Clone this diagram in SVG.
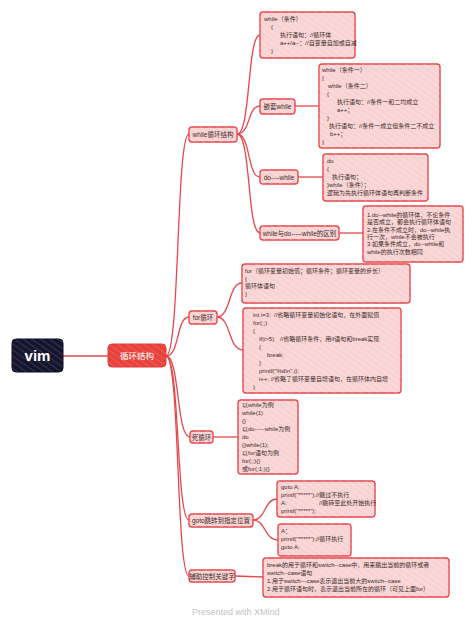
<svg xmlns="http://www.w3.org/2000/svg" width="474" height="625" viewBox="0 0 474 625">
<defs>
<pattern id="hatch" width="5" height="5" patternUnits="userSpaceOnUse" patternTransform="rotate(-55)">
<line x1="0" y1="0" x2="0" y2="5" stroke="#ffffff" stroke-opacity="0.55" stroke-width="0.8"/>
</pattern>
<pattern id="hatchD" width="5" height="5" patternUnits="userSpaceOnUse" patternTransform="rotate(-55)">
<line x1="0" y1="0" x2="0" y2="5" stroke="#ffffff" stroke-opacity="0.35" stroke-width="0.8"/>
</pattern>
<style>
.box{fill:#f9d3d3;stroke:#e5474b;stroke-width:1.4}
.hat{fill:url(#hatch);stroke:none}
.t{font-family:"Liberation Sans","Noto Sans CJK SC",sans-serif;font-size:6px;fill:#3a2a2a}
.n{font-family:"Liberation Sans","Noto Sans CJK SC",sans-serif;font-size:6.5px;fill:#3a2a2a}
.c{fill:none;stroke:#e5474b;stroke-width:1.3}
</style>
</defs>
<rect width="474" height="625" fill="#ffffff"/>

<g id="connectors">
<path class="c" d="M63 356 L108 356"/>
<path class="c" d="M166 356 C180 356 176 134 189 134"/>
<path class="c" d="M166 356 C180 356 176 317 189 317"/>
<path class="c" d="M166 356 C180 356 176 437 190 437"/>
<path class="c" d="M166 356 C180 356 176 520 189 520"/>
<path class="c" d="M166 356 C180 356 176 576 189 576"/>
<path class="c" d="M237 134 C251 134 247 35 260 35"/>
<path class="c" d="M237 134 C251 134 247 106 260 106"/>
<path class="c" d="M237 134 C251 134 247 177 260 177"/>
<path class="c" d="M237 134 C251 134 247 233 260 233"/>
<path class="c" d="M295 106 L319 106"/>
<path class="c" d="M298 177 L323 177"/>
<path class="c" d="M339 233 L363 233"/>
<path class="c" d="M217 317 C231 317 228 283 242 283"/>
<path class="c" d="M217 317 C231 317 228 350 243 350"/>
<path class="c" d="M213 437 L238 437"/>
<path class="c" d="M253 520 C266 520 264 499 277 499"/>
<path class="c" d="M253 520 C266 520 264 540 278 540"/>
<path class="c" d="M235 576 L263 577"/>
</g>

<g id="root">
<rect x="12" y="339" width="51" height="33" rx="4" fill="#15152f" stroke="#0c0c20" stroke-width="1"/>
<rect x="12" y="339" width="51" height="33" rx="4" fill="url(#hatchD)"/>
<text x="37.5" y="361" text-anchor="middle" font-family="Liberation Sans,sans-serif" font-size="15" font-weight="bold" fill="#ffffff">vim</text>
</g>

<g id="main">
<rect x="108" y="344" width="58" height="23" rx="4" fill="#e8423b" stroke="#e0383a" stroke-width="1"/>
<rect x="108" y="344" width="58" height="23" rx="4" fill="url(#hatchD)"/>
<text x="137" y="358.5" text-anchor="middle" font-family="Liberation Sans,Noto Sans CJK SC,sans-serif" font-size="8.5" fill="#ffffff">循环结构</text>
</g>

<g id="n-while">
<rect class="box" x="189" y="127" width="48" height="15" rx="3"/>
<rect class="hat" x="189" y="127" width="48" height="15" rx="3"/>
<text class="n" x="213" y="136.5" text-anchor="middle">while循环结构</text>
</g>

<g id="b-while">
<rect class="box" x="260" y="12" width="95" height="46" rx="3"/>
<rect class="hat" x="260" y="12" width="95" height="46" rx="3"/>
<text class="t" x="264" y="21">while（条件）</text>
<text class="t" x="271" y="29">{</text>
<text class="t" x="280" y="37">执行语句：//循环体</text>
<text class="t" x="280" y="45">a++/a--：//自变量自加或自减</text>
<text class="t" x="271" y="53">}</text>
</g>

<g id="n-nest">
<rect class="box" x="260" y="99" width="35" height="15" rx="3"/>
<rect class="hat" x="260" y="99" width="35" height="15" rx="3"/>
<text class="n" x="277.5" y="108.5" text-anchor="middle">嵌套while</text>
</g>

<g id="b-nest">
<rect class="box" x="319" y="64" width="121" height="84" rx="3"/>
<rect class="hat" x="319" y="64" width="121" height="84" rx="3"/>
<text class="t" x="322" y="72">while（条件一）</text>
<text class="t" x="322" y="80">{</text>
<text class="t" x="328" y="88">while（条件二）</text>
<text class="t" x="327" y="96">{</text>
<text class="t" x="337" y="104">执行语句：//条件一和二均成立</text>
<text class="t" x="337" y="112">a++；</text>
<text class="t" x="327" y="120">}</text>
<text class="t" x="329" y="128">执行语句：//条件一成立但条件二不成立</text>
<text class="t" x="330" y="136">b++；</text>
<text class="t" x="322" y="144">}</text>
</g>

<g id="n-dowhile">
<rect class="box" x="260" y="170" width="38" height="14" rx="3"/>
<rect class="hat" x="260" y="170" width="38" height="14" rx="3"/>
<text class="n" x="279" y="179.5" text-anchor="middle">do----while</text>
</g>

<g id="b-dowhile">
<rect class="box" x="323" y="154" width="105" height="47" rx="3"/>
<rect class="hat" x="323" y="154" width="105" height="47" rx="3"/>
<text class="t" x="327" y="163">do</text>
<text class="t" x="327" y="171">{</text>
<text class="t" x="332" y="179">执行语句；</text>
<text class="t" x="327" y="187">}while（条件）；</text>
<text class="t" x="327" y="195">逻辑为先执行循环体语句再判断条件</text>
</g>

<g id="n-diff">
<rect class="box" x="260" y="226" width="79" height="14" rx="3"/>
<rect class="hat" x="260" y="226" width="79" height="14" rx="3"/>
<text class="n" x="299.5" y="235.5" text-anchor="middle">while与do-----while的区别</text>
</g>

<g id="b-diff">
<rect class="box" x="363" y="206" width="100" height="56" rx="3"/>
<rect class="hat" x="363" y="206" width="100" height="56" rx="3"/>
<text class="t" x="367" y="217">1.do--while的循环体，不论条件</text>
<text class="t" x="367" y="224.3">是否成立，都会执行循环体语句</text>
<text class="t" x="367" y="231.6">2.在条件不成立时，do--while执</text>
<text class="t" x="367" y="238.9">行一次，while不会被执行</text>
<text class="t" x="367" y="246.2">3.如果条件成立，do--while和</text>
<text class="t" x="367" y="253.5">while的执行次数相同</text>
</g>

<g id="n-for">
<rect class="box" x="189" y="311" width="28" height="13" rx="3"/>
<rect class="hat" x="189" y="311" width="28" height="13" rx="3"/>
<text class="n" x="203" y="320" text-anchor="middle">for循环</text>
</g>

<g id="b-for1">
<rect class="box" x="242" y="264" width="168" height="39" rx="3"/>
<rect class="hat" x="242" y="264" width="168" height="39" rx="3"/>
<text class="t" x="245" y="273">for（循环变量初始值；循环条件；循环变量的步长）</text>
<text class="t" x="245" y="280.5">{</text>
<text class="t" x="245" y="288">循环体语句</text>
<text class="t" x="245" y="295.5">}</text>
</g>

<g id="b-for2">
<rect class="box" x="243" y="308" width="158" height="85" rx="3"/>
<rect class="hat" x="243" y="308" width="158" height="85" rx="3"/>
<text class="t" x="253" y="317">int i=3;</text>
<text class="t" x="274" y="317">//省略循环变量初始化语句，在外面赋值</text>
<text class="t" x="253" y="325">for(;;)</text>
<text class="t" x="253" y="333">{</text>
<text class="t" x="259" y="341">if(i&gt;5)</text>
<text class="t" x="280" y="341">//省略循环条件，用if语句和break实现</text>
<text class="t" x="259" y="349">{</text>
<text class="t" x="267" y="357">break;</text>
<text class="t" x="259" y="365">}</text>
<text class="t" x="259" y="373">printf("%d\n",i);</text>
<text class="t" x="259" y="381">i++; //省略了循环变量自增语句，在循环体内自增</text>
<text class="t" x="253" y="389">}</text>
</g>

<g id="n-dead">
<rect class="box" x="190" y="431" width="23" height="12" rx="3"/>
<rect class="hat" x="190" y="431" width="23" height="12" rx="3"/>
<text class="n" x="201.5" y="439.5" text-anchor="middle">死循环</text>
</g>

<g id="b-dead">
<rect class="box" x="238" y="400" width="60" height="74" rx="3"/>
<rect class="hat" x="238" y="400" width="60" height="74" rx="3"/>
<text class="t" x="242" y="407">以while为例</text>
<text class="t" x="242" y="415">while(1)</text>
<text class="t" x="242" y="423">{}</text>
<text class="t" x="242" y="431">以do-----while为例</text>
<text class="t" x="242" y="439">do</text>
<text class="t" x="242" y="447">{}while(1);</text>
<text class="t" x="242" y="455">以for语句为例</text>
<text class="t" x="242" y="463">for(;;){}</text>
<text class="t" x="242" y="471">或for(;1;){}</text>
</g>

<g id="n-goto">
<rect class="box" x="189" y="514" width="64" height="13" rx="3"/>
<rect class="hat" x="189" y="514" width="64" height="13" rx="3"/>
<text class="n" x="221" y="523" text-anchor="middle">goto跳转到指定位置</text>
</g>

<g id="b-goto1">
<rect class="box" x="277" y="481" width="98" height="36" rx="3"/>
<rect class="hat" x="277" y="481" width="98" height="36" rx="3"/>
<text class="t" x="281" y="489">goto A;</text>
<text class="t" x="281" y="497">printf("*****");//跳过不执行</text>
<text class="t" x="281" y="505">A:</text>
<text class="t" x="319" y="505">//跳转至此处开始执行</text>
<text class="t" x="281" y="513">printf("*****");</text>
</g>

<g id="b-goto2">
<rect class="box" x="278" y="524" width="73" height="32" rx="3"/>
<rect class="hat" x="278" y="524" width="73" height="32" rx="3"/>
<text class="t" x="281" y="533">A：</text>
<text class="t" x="281" y="541">printf("*****");//循环执行</text>
<text class="t" x="281" y="549">goto A;</text>
</g>

<g id="n-aux">
<rect class="box" x="189" y="570" width="46" height="12" rx="3"/>
<rect class="hat" x="189" y="570" width="46" height="12" rx="3"/>
<text class="n" x="212" y="578.5" text-anchor="middle">辅助控制关键字</text>
</g>

<g id="b-aux">
<rect class="box" x="263" y="558" width="186" height="39" rx="3"/>
<rect class="hat" x="263" y="558" width="186" height="39" rx="3"/>
<text class="t" x="267" y="567">break的用于循环和switch--case中，用来跳出当前的循环或者</text>
<text class="t" x="267" y="574.5">switch--case语句</text>
<text class="t" x="267" y="582.5">1.用于switch---case表示退出当前大的switch--case</text>
<text class="t" x="267" y="590.5">2.用于循环语句时，表示退出当前所在的循环（可见上面for）</text>
</g>

<text x="192" y="615" font-family="Liberation Sans,sans-serif" font-size="9" fill="#c4c4c4">Presented with XMind</text>
</svg>
